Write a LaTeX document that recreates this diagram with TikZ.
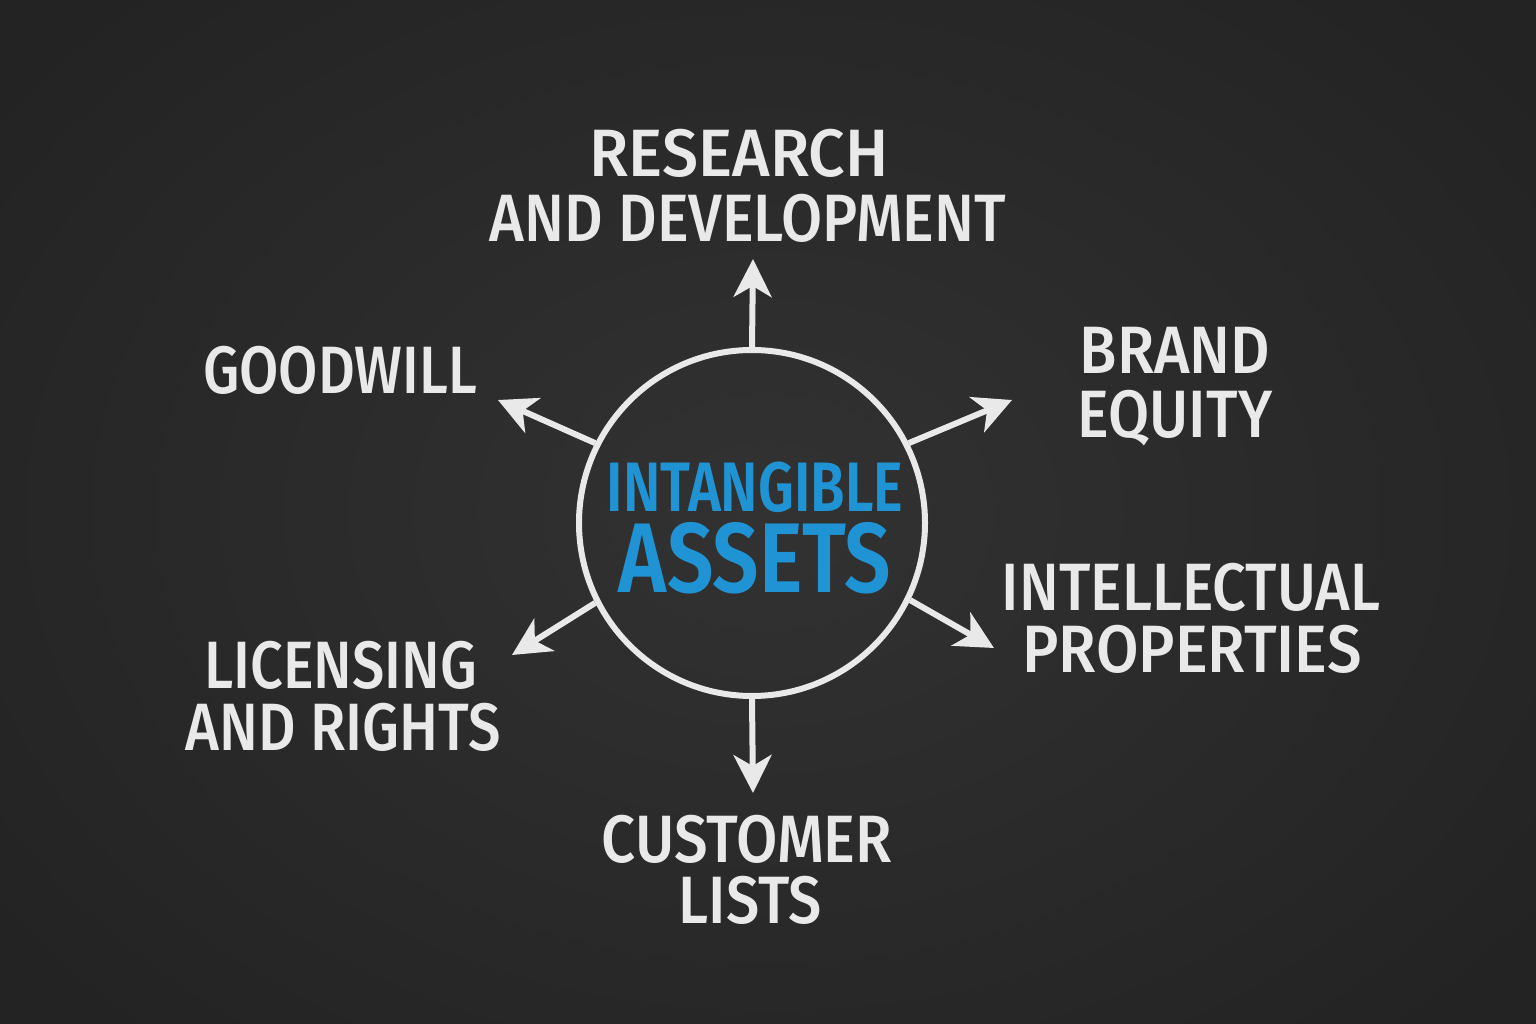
\documentclass[tikz,border=0pt]{standalone}
\usepackage{fontspec}
\usepackage{graphicx}
\setmainfont{Fira Sans}[UprightFont=* Medium, BoldFont=* SemiBold]
\usetikzlibrary{arrows.meta}
\definecolor{chalk}{HTML}{E9E9E9}
\definecolor{chalkblue}{HTML}{1F93D3}
\definecolor{bgin}{HTML}{323232}
\definecolor{bgout}{HTML}{232323}
\newcommand\sx[2]{\scalebox{#1}[1]{#2}}
\tikzset{
  lbl/.style={text=chalk, anchor=base, inner sep=0pt, font=\fontsize{67}{67}\selectfont},
  hublbl/.style={text=chalkblue, anchor=base, inner sep=0pt, text depth=0pt},
  conn/.style={draw=chalk, line width=6pt, -{Stealth[length=38pt,width=38pt,inset=11pt]}},
}
\begin{document}
\begin{tikzpicture}[x=1pt,y=-1pt]
\useasboundingbox (0,0) rectangle (1536,1024);
\shade[inner color=bgin, outer color=bgout] (-200,-200) rectangle (1736,1224);

\node[circle, draw=chalk, line width=6pt, minimum size=346pt, inner sep=0pt] (hub) at (752,523) {};
\node[hublbl, text height=48pt, font=\bfseries\fontsize{70}{70}\selectfont] (hub1) at (755,511) {\sx{0.80}{INTANGIBLE}};
\node[hublbl, text height=67pt, font=\bfseries\fontsize{99}{99}\selectfont] (hub2) at (755,592) {\sx{0.83}{ASSETS}};

\coordinate (tT) at (753,259);
\coordinate (tB) at (753,793);
\coordinate (tUL) at (498,400);
\coordinate (tUR) at (1012,400);
\coordinate (tLL) at (512,655);
\coordinate (tLR) at (994,648);

\draw[conn] (hub.90) -- (tT);
\draw[conn] (hub.270) -- (tB);
\draw[conn] (hub.153) -- (tUL);
\draw[conn] (hub.27) -- (tUR);
\draw[conn] (hub.207) -- (tLL);
\draw[conn] (hub.334) -- (tLR);

\node[lbl] (rd1) at (739,177) {\sx{0.96}{RESEARCH}};
\node[lbl] (rd2) at (748,242) {\sx{0.89}{AND DEVELOPMENT}};
\node[lbl] (gw) at (340,393) {\sx{0.85}{GOODWILL}};
\node[lbl] (be1) at (1175,373) {\sx{0.91}{BRAND}};
\node[lbl] (be2) at (1175,437) {\sx{0.89}{EQUITY}};
\node[lbl] (ip1) at (1191,610) {\sx{0.885}{INTELLECTUAL}};
\node[lbl] (ip2) at (1192,672) {\sx{0.92}{PROPERTIES}};
\node[lbl] (lr1) at (341,688) {\sx{0.86}{LICENSING}};
\node[lbl] (lr2) at (343,750) {\sx{0.865}{AND RIGHTS}};
\node[lbl] (cl1) at (747,862) {\sx{0.895}{CUSTOMER}};
\node[lbl] (cl2) at (750,923) {\sx{0.885}{LISTS}};
\end{tikzpicture}
\end{document}
